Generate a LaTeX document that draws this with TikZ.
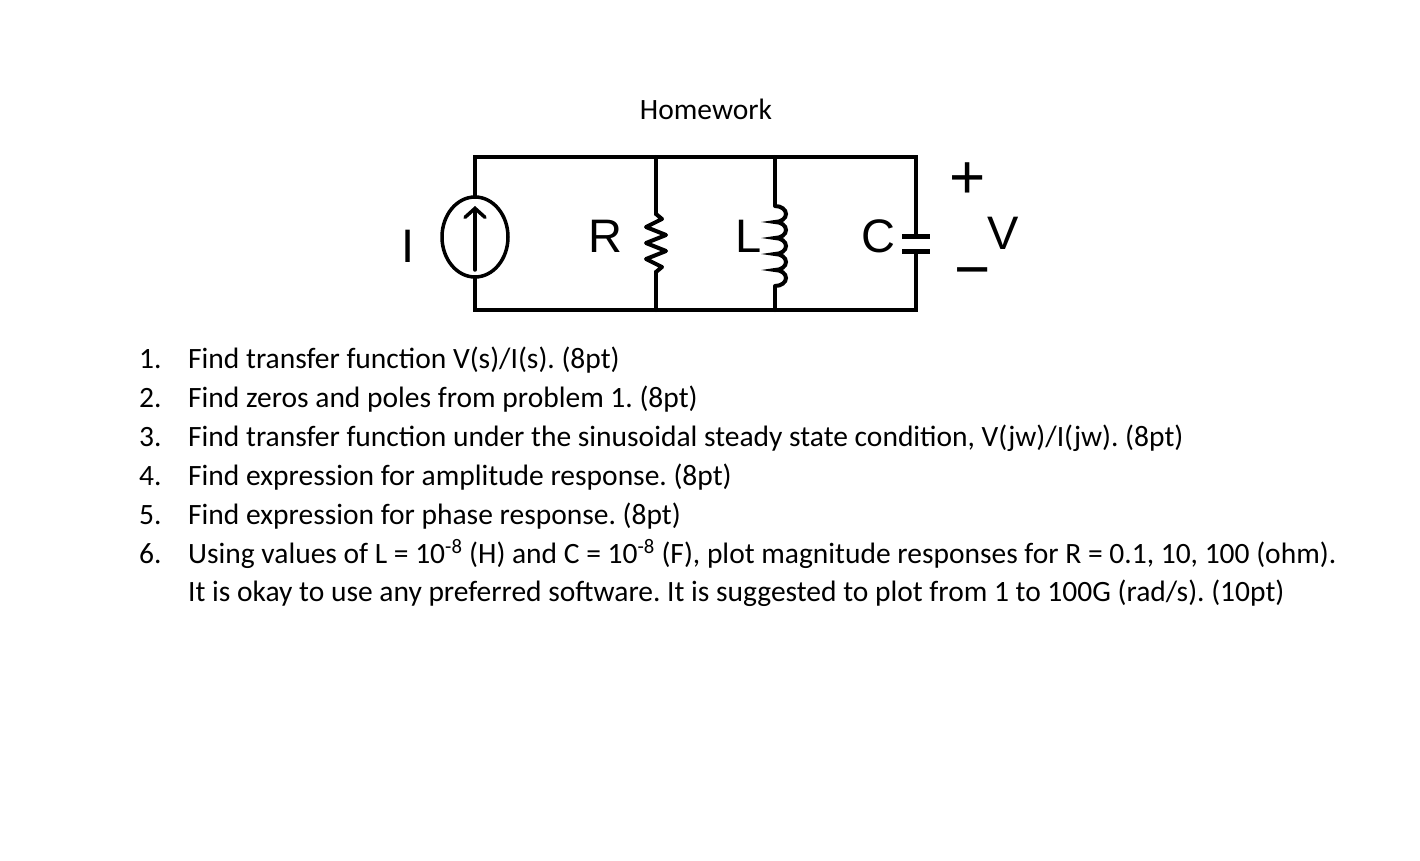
\documentclass[tikz,border=0pt]{standalone}
\usepackage{fontspec}
\setmainfont{Carlito}
\newfontfamily\arialf{Liberation Sans}
\usetikzlibrary{shapes.geometric,arrows.meta}
\begin{document}
\frenchspacing
\begin{tikzpicture}[x=1pt,y=-1pt,
  wire/.style={line width=4pt,line cap=round},
  lbl/.style={font=\arialf\fontsize{47}{47}\selectfont,inner sep=0pt},
  sgn/.style={font=\arialf\fontsize{62}{62}\selectfont,inner sep=0pt},
  txt/.style={font=\fontsize{29.5}{29.5}\selectfont,anchor=base west,inner sep=0pt}]
\useasboundingbox (0,0) rectangle (1420,861);
\node[font=\fontsize{29.5}{29.5}\selectfont] (title) at (706,109) {Homework};
\coordinate (tl) at (475,157); \coordinate (bl) at (475,310);
\coordinate (tr) at (916,157); \coordinate (br) at (916,310);
\coordinate (tR) at (656,157); \coordinate (bR) at (656,310);
\coordinate (tL) at (775,157); \coordinate (bL) at (775,310);
\draw[wire] (bl) -- (tl) -- (tr) -- (br) -- cycle;
% source
\node[draw,line width=3.5pt,ellipse,minimum width=66pt,minimum height=80pt,fill=white] (src) at (475,237) {};
\draw[line width=3.5pt,line cap=round,-{Straight Barb[length=9pt,width=20pt,line cap=round]}] (475,270) -- (475,206);
% resistor
\draw[wire] (tR) -- (656,214);
\draw[wire,line join=round] (656,214) -- (662,219) -- (646,227) -- (666,235) -- (646,243) -- (666,251) -- (646,259) -- (662,267) -- (656,272);
\draw[wire] (656,272) -- (bR);
% inductor
\draw[wire] (tL) -- (775,206);
\draw[line width=4pt] (775,206) arc[start angle=90,end angle=-90,x radius=11pt,y radius=8pt]
 arc[start angle=90,end angle=-90,x radius=11pt,y radius=8pt]
 arc[start angle=90,end angle=-90,x radius=11pt,y radius=8pt]
 arc[start angle=90,end angle=-90,x radius=11pt,y radius=8pt]
 arc[start angle=90,end angle=-90,x radius=11pt,y radius=8pt];
\draw[wire] (775,286) -- (bL);
% capacitor
\fill[white] (905,238) rectangle (927,249);
\draw[line width=5pt] (902,236) -- (930,236) (902,251) -- (930,251);
% labels
\node[lbl] (I) at (408,246) {I};
\node[lbl] (R) at (605,236) {R};
\node[lbl] (L) at (749,236) {L};
\node[lbl] (C) at (878,236) {C};
\node[lbl] (V) at (1003,233) {V};
\node[sgn] (plus) at (968,181) {+};
\node[sgn] (minus) at (973,279) {−};
% list
\foreach \n/\y/\t in {1/368/{Find transfer function V(s)/I(s). (8pt)},
 2/407/{Find zeros and poles from problem 1. (8pt)},
 3/446/{Find transfer function under the sinusoidal steady state condition, V(jw)/I(jw). (8pt)},
 4/485/{Find expression for amplitude response. (8pt)},
 5/524/{Find expression for phase response. (8pt)},
 6/563/{Using values of L = 10\textsuperscript{-8} (H) and C = 10\textsuperscript{-8} (F), plot magnitude responses for R = 0.1, 10, 100 (ohm).}}
 {\node[txt] (n\n) at (139,\y) {\n.};
  \node[txt] (t\n) at (188,\y) {\t};}
\node[txt] (t7) at (188,601) {It is okay to use any preferred software. It is suggested to plot from 1 to 100G (rad/s). (10pt)};
\end{tikzpicture}
\end{document}
